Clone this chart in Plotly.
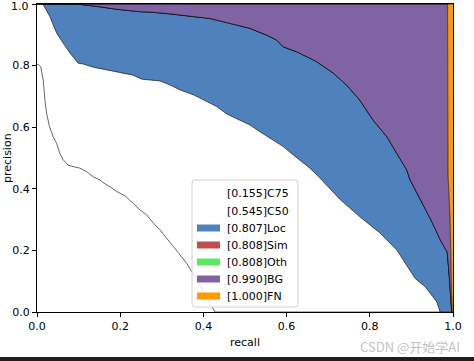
import plotly.graph_objects as go

# ---------------- data ----------------
c75_r = [0, 0.003, 0.009, 0.015, 0.019, 0.023, 0.030, 0.039, 0.047, 0.055, 0.063, 0.075, 0.087,
         0.103, 0.119, 0.135, 0.151, 0.159, 0.175, 0.192, 0.212, 0.231, 0.248, 0.264, 0.280,
         0.296, 0.312, 0.328, 0.344, 0.360, 0.372, 0.390, 0.405, 0.420, 0.428, 1.0]
c75_p = [0.805, 0.804, 0.796, 0.753, 0.688, 0.646, 0.602, 0.569, 0.548, 0.515, 0.494, 0.477, 0.472,
         0.467, 0.456, 0.439, 0.429, 0.420, 0.407, 0.391, 0.377, 0.354, 0.331, 0.315, 0.288,
         0.266, 0.239, 0.212, 0.185, 0.158, 0.131, 0.090, 0.055, 0.017, 0.0, 0.0]

c50_r = [0, 0.014, 0.031, 0.047, 0.063, 0.079, 0.099, 0.111, 0.135, 0.168, 0.200, 0.231, 0.252,
         0.272, 0.296, 0.320, 0.344, 0.376, 0.400, 0.432, 0.456, 0.488, 0.512, 0.536, 0.560,
         0.592, 0.616, 0.640, 0.656, 0.680, 0.704, 0.728, 0.776, 0.825, 0.865, 0.897, 0.909,
         0.933, 0.949, 0.961, 0.969, 1.0]
c50_p = [1.0, 1.0, 0.959, 0.906, 0.873, 0.841, 0.808, 0.805, 0.795, 0.786, 0.779, 0.769, 0.756,
         0.753, 0.750, 0.737, 0.721, 0.705, 0.688, 0.667, 0.643, 0.623, 0.607, 0.585, 0.564,
         0.537, 0.510, 0.483, 0.467, 0.435, 0.400, 0.366, 0.309, 0.256, 0.201, 0.136, 0.109,
         0.082, 0.055, 0.033, 0.0, 0.0]

loc_r = [0, 0.096, 0.151, 0.192, 0.248, 0.272, 0.320, 0.368, 0.416, 0.464, 0.512, 0.552, 0.576,
         0.592, 0.624, 0.656, 0.672, 0.712, 0.744, 0.776, 0.808, 0.841, 0.865, 0.889, 0.897,
         0.923, 0.947, 0.971, 0.986, 0.990, 0.993, 0.996, 0.997, 1.0]
loc_p = [1.0, 1.0, 0.991, 0.983, 0.975, 0.974, 0.968, 0.961, 0.953, 0.937, 0.921, 0.899, 0.883,
         0.861, 0.845, 0.824, 0.813, 0.776, 0.737, 0.688, 0.623, 0.569, 0.516, 0.461, 0.429,
         0.364, 0.299, 0.230, 0.195, 0.136, 0.085, 0.006, 0.0, 0.0]

sim_r = loc_r
sim_p = loc_p
oth_r = loc_r
oth_p = loc_p

bg_r = [0, 0.987, 0.988, 0.993, 0.996, 0.998, 1.0]
bg_p = [1.0, 1.0, 0.45, 0.30, 0.10, 0.0, 0.0]

fn_r = [0, 1.0]
fn_p = [1.0, 1.0]

labels = ["[0.155]C75", "[0.545]C50", "[0.807]Loc", "[0.808]Sim", "[0.808]Oth", "[0.990]BG", "[1.000]FN"]
colors = ["#ffffff", "#ffffff", "rgb(79,130,189)", "rgb(191,79,77)", "rgb(92,230,97)",
          "rgb(128,99,163)", "rgb(255,153,0)"]
series = [(c75_r, c75_p), (c50_r, c50_p), (loc_r, loc_p), (sim_r, sim_p), (oth_r, oth_p),
          (bg_r, bg_p), (fn_r, fn_p)]

x_ticks = [0.0, 0.2, 0.4, 0.6, 0.8, 1.0]
x_ticktext = ["0.0", "0.2", "0.4", "0.6", "0.8", "1.0"]
y_ticks = [0.0, 0.2, 0.4, 0.6, 0.8, 1.0]
y_ticktext = ["0.0", "0.2", "0.4", "0.6", "0.8", ""]   # top label drawn separately (edge of view)
y_top_label = "1.0"

# ---------------- figure ----------------
W, H = 474, 361
L, R, T, B = 37, 453, 4, 312  # plot-area pixel edges
FONT = "DejaVu Sans"


def px(x):
    return (x - L) / (R - L)


def py(y):
    return (B - y) / (B - T)


fig = go.Figure()
for i, ((r, p), c, lab) in enumerate(zip(series, colors, labels)):
    fig.add_trace(go.Scatter(
        x=r, y=p, mode="lines", name=lab,
        line=dict(color="black", width=0.6),
        fill="tozeroy" if i == 0 else "tonexty",
        fillcolor=c, showlegend=False, hoverinfo="skip"))

shapes = []
annotations = []

# legend box (rounded)
x0, x1, y0, y1 = px(192), px(298), py(307), py(180)
rx, ry = 3 / (R - L), 3 / (B - T)
path = (f"M{x0+rx},{y1} L{x1-rx},{y1} Q{x1},{y1} {x1},{y1-ry} L{x1},{y0+ry} Q{x1},{y0} {x1-rx},{y0} "
        f"L{x0+rx},{y0} Q{x0},{y0} {x0},{y0+ry} L{x0},{y1-ry} Q{x0},{y1} {x0+rx},{y1} Z")
shapes.append(dict(type="path", path=path, xref="paper", yref="paper", layer="above",
                   fillcolor="rgba(255,255,255,0.8)", line=dict(color="rgb(210,210,210)", width=1)))

row_y = [194, 211, 228, 245, 262, 279, 296]
for lab, c, yy in zip(labels, colors, row_y):
    shapes.append(dict(type="rect", xref="paper", yref="paper", layer="above",
                       x0=px(197), x1=px(220), y0=py(yy + 3.5), y1=py(yy - 3.5),
                       fillcolor=c, line=dict(width=0)))
    annotations.append(dict(x=px(225), y=py(yy), xref="paper", yref="paper", text=lab,
                            showarrow=False, xanchor="left", yanchor="middle",
                            font=dict(family=FONT, size=11, color="black")))

# top y tick label, kept just inside the view
annotations.append(dict(x=px(31), y=py(7), xref="paper", yref="paper", text=y_top_label,
                        showarrow=False, xanchor="right", yanchor="middle",
                        font=dict(family=FONT, size=11, color="black")))
# y axis label (kept at the very left edge, as in the picture)
annotations.append(dict(x=px(7), y=py(158), xref="paper", yref="paper", text="precision",
                        textangle=-90, showarrow=False, xanchor="center", yanchor="middle",
                        font=dict(family=FONT, size=11, color="black")))
# x axis label
annotations.append(dict(x=px(245), y=py(342), xref="paper", yref="paper", text="recall",
                        showarrow=False, xanchor="center", yanchor="middle",
                        font=dict(family=FONT, size=11, color="black")))
# watermark
annotations.append(dict(x=px(462), y=py(346), xref="paper", yref="paper", text="CSDN @开始学AI",
                        showarrow=False, xanchor="right", yanchor="middle",
                        font=dict(family="Noto Sans CJK SC", size=13, color="rgb(195,195,195)")))
# dark strip at the bottom of the screenshot
shapes.append(dict(type="rect", xref="paper", yref="paper", layer="above",
                   x0=px(0), x1=px(W), y0=py(H + 2), y1=py(357),
                   fillcolor="rgb(30,30,30)", line=dict(width=0)))

axis_common = dict(range=[0, 1], showgrid=False, zeroline=False, showline=True, mirror=True,
                   linecolor="black", linewidth=1, ticks="outside", ticklen=4, tickwidth=1,
                   tickcolor="black", automargin=False,
                   tickfont=dict(family=FONT, size=11, color="black"))

fig.update_layout(
    width=W, height=H,
    margin=dict(l=L, r=W - R, t=T, b=H - B, pad=0, autoexpand=False),
    paper_bgcolor="white", plot_bgcolor="white",
    showlegend=False,
    xaxis=dict(tickmode="array", tickvals=x_ticks, ticktext=x_ticktext, **axis_common),
    yaxis=dict(tickmode="array", tickvals=y_ticks, ticktext=y_ticktext, **axis_common),
    shapes=shapes, annotations=annotations,
)

fig.write_html("out.html", config={"displayModeBar": False, "staticPlot": True},
               post_script="document.body.style.margin='0';document.body.style.overflow='hidden';")
